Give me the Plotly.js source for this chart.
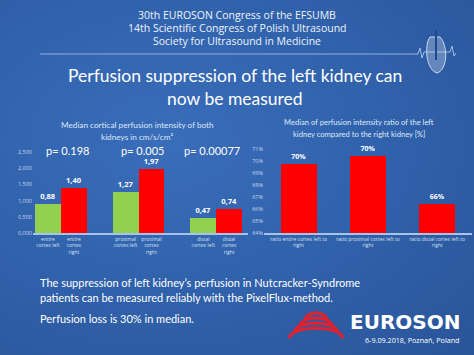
<!DOCTYPE html>
<html><head><meta charset="utf-8">
<script src="https://cdn.plot.ly/plotly-3.0.1.min.js"></script>
<style>
html,body{margin:0;padding:0;}
body{width:474px;height:355px;background:radial-gradient(ellipse at 35% 40%, #3a6dba 0%, #3163ad 45%, #2a5499 100%);}
#chart{width:474px;height:355px;}
</style></head>
<body><div id="chart"></div>
<script>
// ---- data ----
const leftLabels = ['entire<br>cortex left', 'proximal<br>cortex left', 'distal<br>cortex left'];
const rightLabels = ['entire<br>cortex<br>right', 'proximal<br>cortex<br>right', 'distal<br>cortex<br>right'];
const leftValues = [0.88, 1.27, 0.47];
const rightValues = [1.40, 1.97, 0.74];
const spacers = ['sp1', 'sp2'];
const pValues = ['p= 0.198', 'p= 0.005', 'p= 0.00077'];
const ratioLabels = ['ratio entire cortex left to<br>right', 'ratio proximal cortex left to<br>right', 'ratio distal cortex left to<br>right'];
const ratioValues = [69.75, 70.4, 66.4];
const leftTicks = [0, 0.5, 1, 1.5, 2, 2.5];
const rightTicks = [64, 65, 66, 67, 68, 69, 70, 71];
const ratioBase = 64;

const W = 474, H = 355;
const px = x => x / W, py = y => 1 - y / H;
const catOrder = [leftLabels[0], rightLabels[0], spacers[0], leftLabels[1], rightLabels[1], spacers[1], leftLabels[2], rightLabels[2]];
const comma = v => v.toFixed(2).replace('.', ',');
const light = '#dfe8f6';
const FONT = 'Lato, "Open Sans", sans-serif';
const valFont = s => ({color:'#ffffff', size:s, family:'"Open Sans", sans-serif', weight:'bold'});

const traces = [
  {type:'bar', x:leftLabels, y:leftValues, marker:{color:'#92d050'}, text:leftValues.map(comma),
   textposition:'outside', textfont:valFont(7.5), cliponaxis:false, xaxis:'x', yaxis:'y', hoverinfo:'none'},
  {type:'bar', x:rightLabels, y:rightValues, marker:{color:'#ff0000'}, text:rightValues.map(comma),
   textposition:'outside', textfont:valFont(7.5), cliponaxis:false, xaxis:'x', yaxis:'y', hoverinfo:'none'},
  {type:'bar', x:ratioLabels, y:ratioValues.map(v => v - ratioBase), width:0.52, marker:{color:'#ff0000'},
   text:ratioValues.map(v => Math.round(v) + '%'),
   textposition:'outside', textfont:valFont(7), cliponaxis:false, xaxis:'x2', yaxis:'y2', hoverinfo:'none'}
];

const ann = [];
function A(text, x, y, size, o) {
  ann.push(Object.assign({text:text, x:px(x), y:py(y), xref:'paper', yref:'paper', showarrow:false,
    xanchor:'center', yanchor:'middle', font:{size:size, color:light, family:FONT}}, o || {}));
}
const hdr = {size:10.5, color:'#eef3fb', family:'"Open Sans", sans-serif'};
A('30th EUROSON Congress of the EFSUMB', 237, 15, 10.5, {font:hdr});
A('14th Scientific Congress of Polish Ultrasound', 237, 28, 10.5, {font:hdr});
A('Society for Ultrasound in Medicine', 237, 41, 10.5, {font:hdr});
A('Perfusion suppression of the left kidney can', 235, 76, 17.5, {font:{size:17.5, color:'#ffffff', family:FONT}});
A('now be measured', 235, 98, 17.5, {font:{size:17.5, color:'#ffffff', family:FONT}});
A('Median cortical perfusion intensity of both', 137, 125, 8.2);
A('kidneys in cm/s/cm²', 137, 137, 8.2);
A('Median of perfusion intensity ratio of the left', 359, 122, 7.6);
A('kidney compared to the right kidney [%]', 359, 134, 7.6);
const pX = [67, 142, 212];
pValues.forEach((t, i) => A(t, pX[i], 150, 11, {font:{size:11, color:'#ffffff', family:FONT}}));
const body = {size:11, color:'#ffffff', family:FONT};
A('The suppression of left kidney’s perfusion in Nutcracker-Syndrome', 38, 282, 11, {xanchor:'left', font:body});
A('patients can be measured reliably with the PixelFlux-method.', 38, 297, 11, {xanchor:'left', font:body});
A('Perfusion loss is 30% in median.', 38, 318, 11, {xanchor:'left', font:body});
A('EUROSON', 462, 322, 20, {xanchor:'right', font:{size:20, color:'#ffffff', family:'"DejaVu Sans", sans-serif', weight:'bold'}});
A('6-9.09.2018, Poznań, Poland', 462, 340, 7.2, {xanchor:'right', font:{size:7.2, color:'#ffffff', family:'"Open Sans", sans-serif'}});

const shapes = [
  {type:'line', xref:'paper', yref:'paper', x0:px(40), x1:px(414), y0:py(54), y1:py(54), line:{color:'#8fb0dd', width:1}},
  {type:'path', xref:'paper', yref:'paper', path:`M ${px(414)} ${py(54)} L ${px(418)} ${py(54)} L ${px(420)} ${py(48)} L ${px(422)} ${py(58)} L ${px(424)} ${py(52)} L ${px(450)} ${py(52)} L ${px(452)} ${py(46)} L ${px(454)} ${py(56)} L ${px(456)} ${py(53)}`, line:{color:'#9fbde6', width:1}},
  {type:'path', xref:'paper', yref:'paper', path:`M ${px(430)} ${py(37)} C ${px(424)} ${py(45)} ${px(426)} ${py(70)} ${px(437)} ${py(73)} C ${px(448)} ${py(70)} ${px(448)} ${py(45)} ${px(440)} ${py(37)} Z`, line:{color:'#c9d8ee', width:1}, fillcolor:'rgba(200,215,235,0.35)'},
  {type:'line', xref:'paper', yref:'paper', x0:px(436), x1:px(436), y0:py(30), y1:py(60), line:{color:'#1d4a8f', width:2}}
];
// EUROSON red arcs (stacked ∩ arcs)
[0, 1, 2, 3].forEach(i => {
  const cx = 316, peak = 313 + 5 * i, rx = 11 + 5.3 * i, ry = 7.5 + 1 * i, cy = peak + ry, pts = [];
  for (let a = 0; a <= 180; a += 10) {
    const rad = a * Math.PI / 180;
    pts.push(`${px(cx + rx * Math.cos(rad))} ${py(cy - ry * Math.sin(rad))}`);
  }
  shapes.push({type:'path', xref:'paper', yref:'paper', path:'M ' + pts.join(' L '), line:{color:'#e3202c', width:3}});
});

const tickFont = {size:5.5, color:'#c9d7ec', family:'"Open Sans", sans-serif'};
const xTickFont = {size:5, color:'#d4e0f1', family:'"Open Sans", sans-serif'};
const layout = {
  width:W, height:H, margin:{l:0, r:0, t:0, b:0},
  paper_bgcolor:'rgba(0,0,0,0)', plot_bgcolor:'rgba(0,0,0,0)',
  showlegend:false, barmode:'overlay', bargap:0, separators:',.',
  xaxis:{domain:[px(33), px(248)], type:'category', categoryorder:'array', categoryarray:catOrder,
    range:[-0.58, 7.73], tickvals:leftLabels.concat(rightLabels), ticktext:leftLabels.concat(rightLabels),
    showline:true, linecolor:'#a9c3e8', linewidth:1.5, ticks:'', showgrid:false, zeroline:false, tickangle:0,
    tickfont:xTickFont, fixedrange:true},
  yaxis:{domain:[py(233), py(152)], range:[0, 2.5], tickvals:leftTicks, tickformat:'.3f',
    showgrid:false, zeroline:false, showline:false, ticks:'', tickfont:tickFont, fixedrange:true},
  xaxis2:{domain:[px(264), px(472)], anchor:'y2', type:'category', categoryorder:'array', categoryarray:ratioLabels,
    showline:true, linecolor:'#a9c3e8', linewidth:1.5, ticks:'', showgrid:false, zeroline:false, tickangle:0,
    tickfont:xTickFont, fixedrange:true},
  yaxis2:{domain:[py(233), py(149)], anchor:'x2', range:[0, 7], tickvals:rightTicks.map(v => v - ratioBase),
    ticktext:rightTicks.map(v => v + '%'), showgrid:false, zeroline:false, showline:false, ticks:'',
    tickfont:tickFont, fixedrange:true},
  annotations:ann, shapes:shapes
};
Plotly.newPlot('chart', traces, layout, {staticPlot:true, displayModeBar:false});
</script></body></html>
